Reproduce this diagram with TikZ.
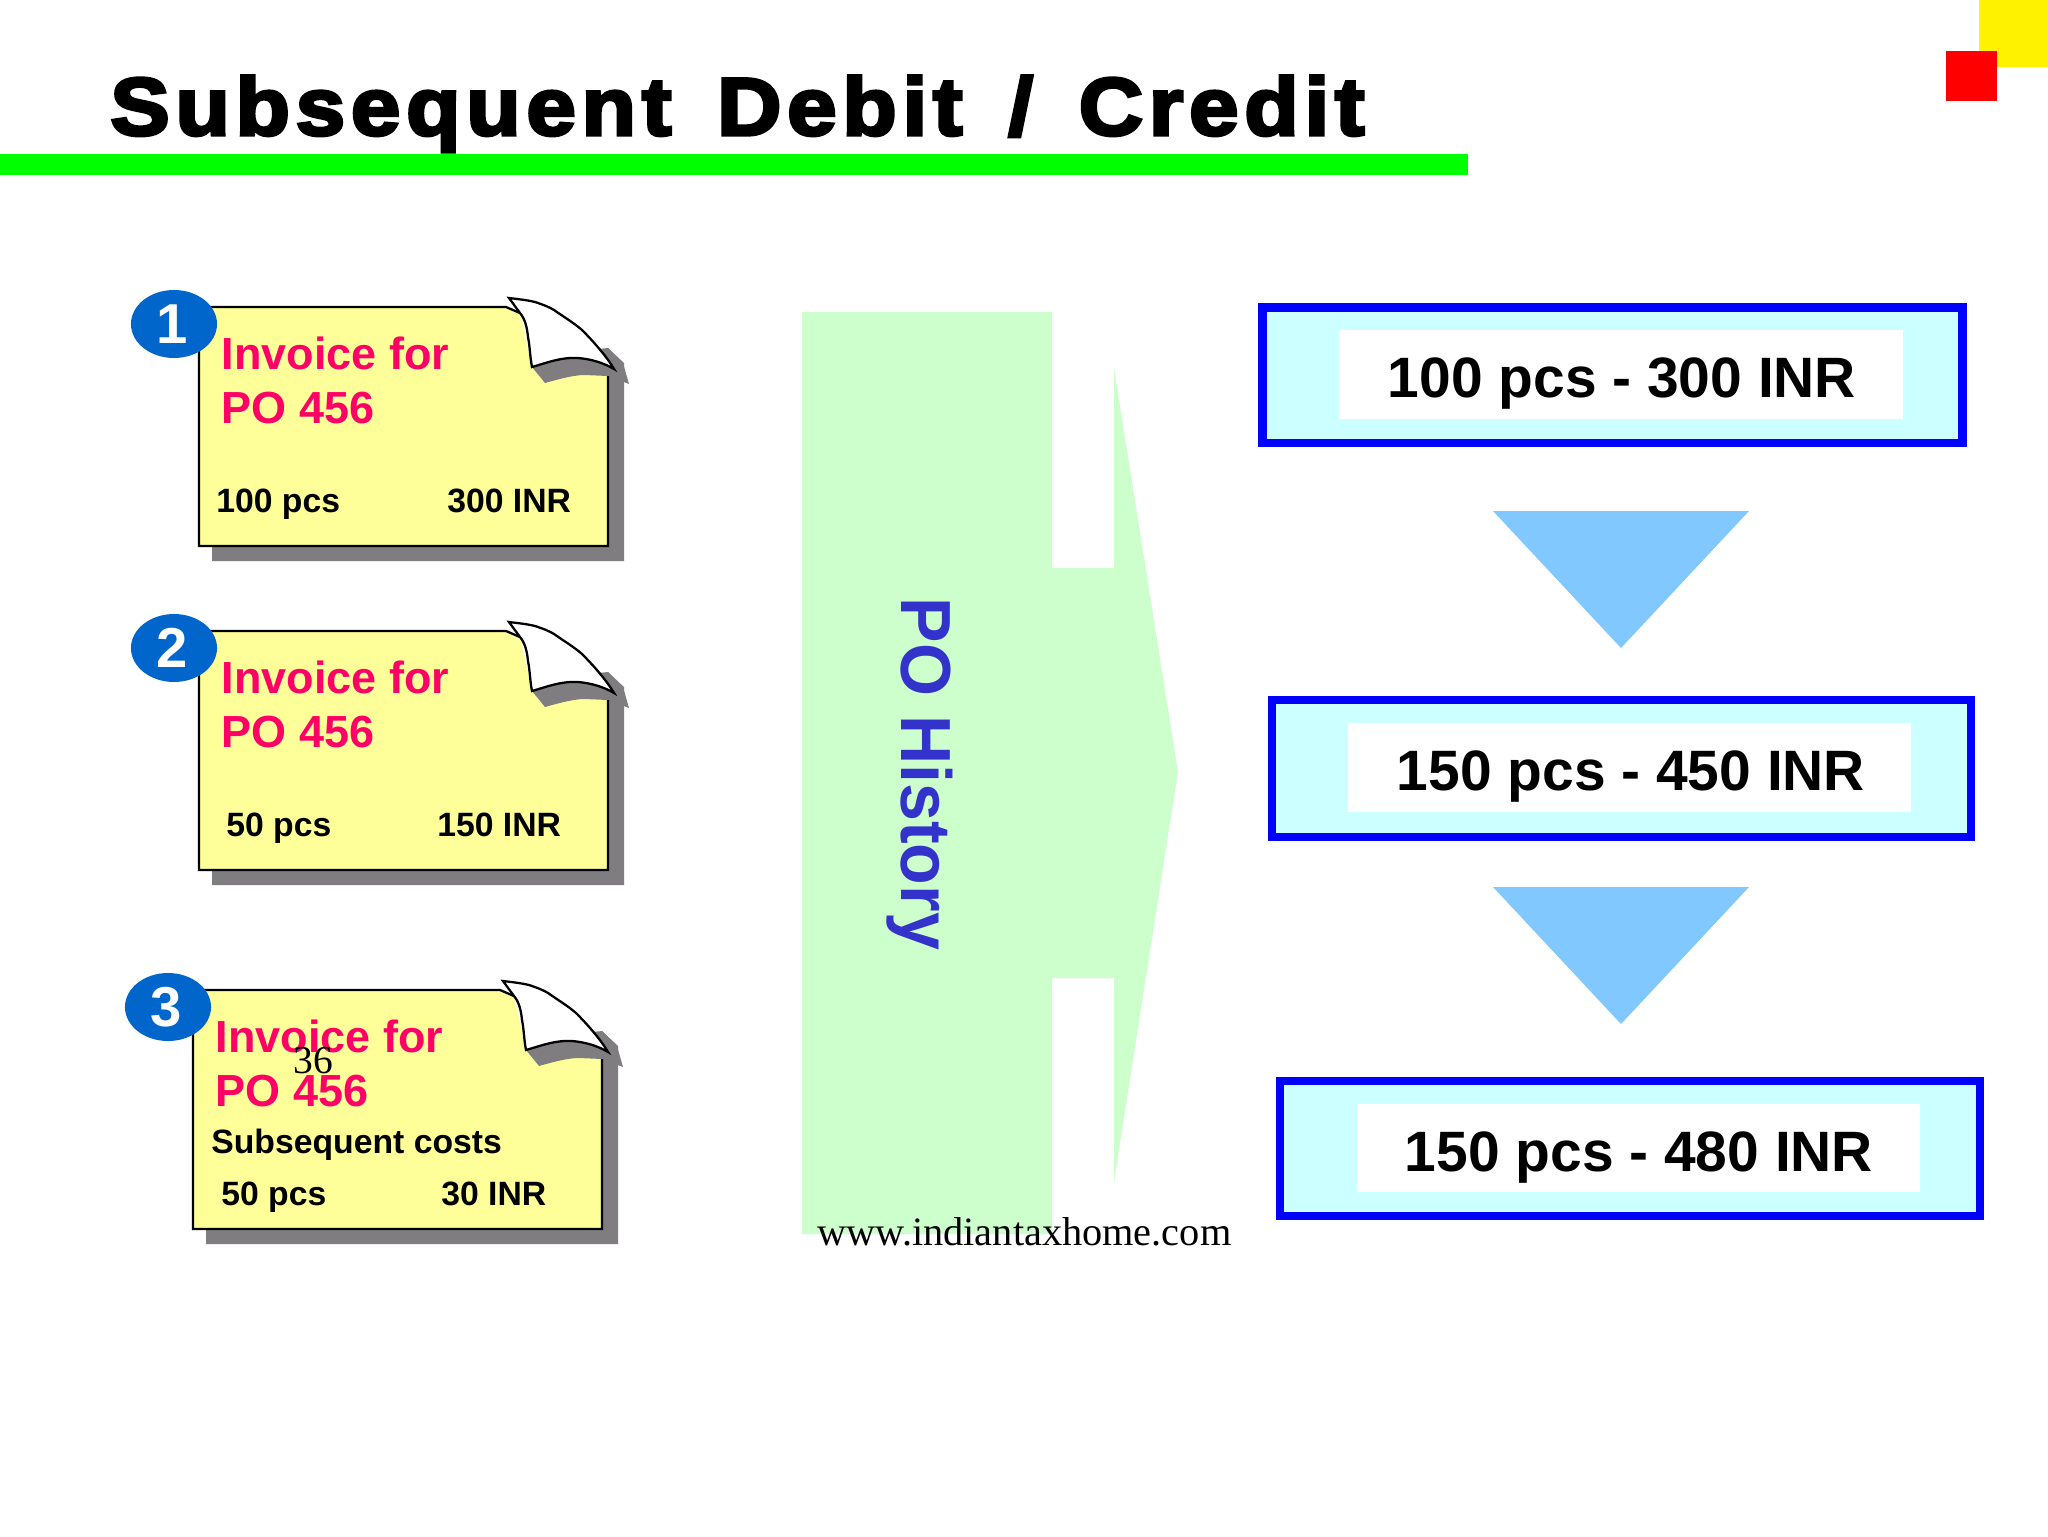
\documentclass[tikz,border=0pt]{standalone}
\usepackage{fontspec}
\usetikzlibrary{shapes.geometric}
\setmainfont{Liberation Sans}
\newfontfamily\webfont{Liberation Serif}
\newfontfamily\titlefont[FakeBold=4,FakeStretch=1.09,LetterSpace=7,WordSpace=1.5]{Liberation Sans Bold}
\definecolor{mybar}{RGB}{0,255,0}
\definecolor{mynote}{RGB}{255,255,153}
\definecolor{myshadow}{RGB}{128,125,128}
\definecolor{mybadge}{RGB}{0,102,204}
\definecolor{mypink}{RGB}{255,0,102}
\definecolor{myarrow}{RGB}{204,255,204}
\definecolor{myhistory}{RGB}{51,51,204}
\definecolor{myframe}{RGB}{0,0,255}
\definecolor{mycyan}{RGB}{204,255,255}
\definecolor{mytriangle}{RGB}{128,200,255}
\tikzset{
    every node/.style={inner sep=0pt},
    txt/.style={anchor=base west},
    head/.style={txt, mypink, font=\fontsize{25.6}{28}\selectfont\bfseries},
    small/.style={txt, font=\fontsize{19.2}{22}\selectfont\bfseries},
    total/.style={anchor=base, font=\fontsize{32.4}{38}\selectfont\bfseries},
    badge/.style={ellipse, fill=mybadge, minimum width=49pt, minimum height=38.7pt, text=white, font=\fontsize{32}{34}\selectfont\bfseries},
    frame/.style={draw=myframe, line width=4.8pt, fill=mycyan},
    flow/.style={fill=mytriangle}
}
% one invoice sheet: #1 x, #2 y, #3 number
\newcommand{\invoice}[3]{
    \begin{scope}[shift={(#1,#2)}]
        \fill[myshadow] (13,239) -- (13,254) -- (425,254) -- (425,56) -- (409,41) -- (409,239) -- cycle;
        \fill[mynote] (0,0) -- (307,0) -- (321,6) -- (333,60) -- (409,60) -- (409,239) -- (0,239) -- cycle;
        \fill[myshadow] (333,60) -- (346,76) .. controls (360,72) and (375,68) .. (386,68) -- (409,69) -- (430,77) -- (424,56) -- (409,41) -- (370,45) -- cycle;
        \draw[line width=1.3pt] (321,6) -- (307,0) -- (0,0) -- (0,239) -- (409,239) -- (409,69);
        \draw[fill=white, line width=1.3pt] (310,-9) .. controls (318,-8) and (328,-7) .. (336,-5)
            .. controls (345,-2) and (350,0) .. (355,3) .. controls (365,10) and (375,16) .. (383,23)
            .. controls (395,35) and (408,50) .. (415,62) .. controls (405,56) and (392,52) .. (379,51)
            .. controls (362,50) and (347,56) .. (333,60) .. controls (331,50) and (331,40) .. (329,30)
            .. controls (328,20) and (326,12) .. (321,6) -- cycle;
        \node[badge] (badge#3) at (-25,17) {\raisebox{-1.5pt}{#3\hspace{2pt}}};
        \node[head] (for#3) at (22.5,62) {Invoice for};
        \node[head] (po#3) at (22.5,116) {PO 456};
    \end{scope}
}
\begin{document}
\begin{tikzpicture}[x=.02cm, y=-.02cm]
    \useasboundingbox (0,0) rectangle (2048,1536);
    \fill[white] (0,0) rectangle (2048,1536);

    % corner and title
    \fill[yellow] (1979,0) rectangle (2048,67);
    \fill[red] (1946,51) rectangle (1997,101);
    \node[txt, font=\fontsize{46.5}{50}\titlefont] (title) at (110,135) {Subsequent Debit / Credit};
    \fill[mybar] (0,153.5) rectangle (1468,175);

    % invoices
    \invoice{199}{307}{1}
    \node[small] (pcsA) at (216,512) {100 pcs};
    \node[small] (inrA) at (447,512) {300 INR};
    \invoice{199}{631}{2}
    \node[small] (pcsB) at (226,836) {50 pcs};
    \node[small] (inrB) at (437,836) {150 INR};
    \invoice{193}{990}{3}
    \node[small] (sub) at (211,1153) {Subsequent costs};
    \node[small] (pcsC) at (221,1205) {50 pcs};
    \node[small] (inrC) at (441,1205) {30 INR};
    \node[txt, font=\fontsize{22.5}{24}\webfont] (page) at (293,1073) {36};

    % history arrow
    \fill[myarrow] (802,312) -- (1052,312) -- (1052,568) -- (1114,568) -- (1114,368) -- (1178,772) -- (1114,1182) -- (1114,978) -- (1052,978) -- (1052,1234) -- (802,1234) -- cycle;
    \node[rotate=-90, myhistory, font=\fontsize{40.4}{44}\selectfont\bfseries] (history) at (920,774) {\scalebox{.96}[1]{PO History}};
    \node[txt, font=\fontsize{22.95}{26}\webfont] (web) at (817,1245) {www.indiantaxhome.com};

    % totals
    \draw[frame] (1262.5,307.5) rectangle (1962.5,443);
    \fill[white] (1339,330) rectangle (1903,418.5);
    \node[total] (totalA) at (1622,397) {100 pcs - 300 INR};
    \draw[frame] (1272,700) rectangle (1971,837);
    \fill[white] (1348,723) rectangle (1911,812);
    \node[total] (totalB) at (1631,790) {150 pcs - 450 INR};
    \draw[frame] (1280,1081) rectangle (1980,1216);
    \fill[white] (1357,1104) rectangle (1920,1192);
    \node[total] (totalC) at (1639,1171) {150 pcs - 480 INR};
    \fill[flow] (1493,511) -- (1749,511) -- (1621,648) -- cycle;
    \fill[flow] (1493,887) -- (1749,887) -- (1621,1024) -- cycle;
\end{tikzpicture}
\end{document}
